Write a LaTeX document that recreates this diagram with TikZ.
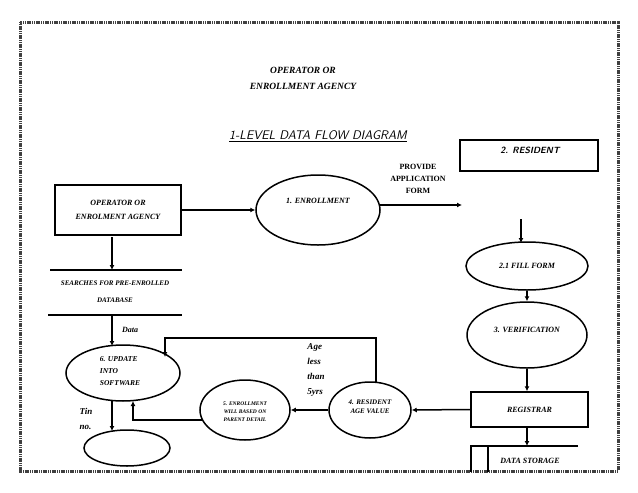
\documentclass[tikz,border=0pt]{standalone}
\usepackage{fontspec}
\setmainfont{Liberation Serif}
\usetikzlibrary{arrows.meta,shapes.geometric}
\begin{document}
\begin{tikzpicture}[x=1pt,y=-1pt,
  every node/.style={font=\bfseries\itshape\fontsize{8}{10}\selectfont, align=center},
  box/.style={draw, line width=1.5pt, minimum width=#1, inner sep=0pt},
  ell/.style={draw, ellipse, line width=1.5pt, inner sep=0pt},
  ar/.style={line width=1.5pt, -{Latex[length=5pt,width=5pt]}},
  ln/.style={line width=1.5pt}]
\useasboundingbox (0,0) rectangle (638,493);
\draw[line width=3pt, dash pattern=on 1.2pt off 0.6pt, black!75] (20,22) rectangle (618,471);
\node[font=\bfseries\itshape\fontsize{9.5}{16}\selectfont] (t1) at (303,78) {OPERATOR OR\\ENROLLMENT AGENCY};
\node[font=\itshape\fontsize{12.5}{14}\selectfont\sffamily] (t2) at (318,136) {\underline{1-LEVEL DATA FLOW DIAGRAM}};
\draw[ln] (460,140) rectangle (598,171);
\node[font=\bfseries\itshape\fontsize{9}{10}\selectfont\sffamily] (res) at (530,150) {2. RESIDENT};
\node[box=126pt, minimum height=50pt, font=\bfseries\itshape\fontsize{8}{14}\selectfont] (op) at (118,210) {OPERATOR OR\\ENROLMENT AGENCY};
\node[ell, minimum width=124pt, minimum height=70pt] (e1) at (318,210) {};
\node (e1t) at (318,201) {1. ENROLLMENT};
\draw[ar] (op.east) -- (e1.west);
\coordinate (pf) at (462,205);
\draw[ar] (380,205) -- (pf);
\node[font=\bfseries\fontsize{8}{12}\selectfont] (pl) at (418,179) {PROVIDE\\APPLICATION\\FORM};
\coordinate (r1) at (521,219);
\node[ell, minimum width=122pt, minimum height=48pt] (ff) at (527,266) {2.1 FILL FORM};
\draw[ar] (r1) -- (521,243);
\node[ell, minimum width=120pt, minimum height=66pt] (ver) at (527,335) {};
\node (vt) at (527,330) {3. VERIFICATION};
\draw[ar] (ff) -- (ver);
\node[box=117pt, minimum height=35pt] (reg) at (529.5,409.5) {REGISTRAR};
\draw[ar] (ver) -- (ver|-reg.north);
\draw[ln] (578,446) -- (471,446) -- (471,472) (488,446) -- (488,472);
\node (ds) at (530,461) {DATA STORAGE};
\coordinate (dst) at (527,446);
\draw[ar] (527,427) -- (dst);
\node[ell, minimum width=82pt, minimum height=56pt] (e4) at (370,410) {};
\node[font=\bfseries\itshape\fontsize{7}{9}\selectfont] (e4t) at (370,407) {4. RESIDENT\\AGE VALUE};
\draw[ar] (reg.west) -- (e4.east);
\node[ell, minimum width=90pt, minimum height=60pt] (e5) at (245,410) {};
\node[font=\bfseries\itshape\fontsize{5.5}{8}\selectfont] (e5t) at (245,412) {5. ENROLLMENT\\WILL BASED ON\\PARENT DETAIL};
\draw[ar] (e4.west) -- (e5.east);
\node[ell, minimum width=114pt, minimum height=56pt] (e6) at (123,373) {};
\node[align=left, font=\bfseries\itshape\fontsize{7.5}{12}\selectfont] (e6t) at (120,371) {6. UPDATE\\INTO\\SOFTWARE};
\draw[ar] (201.5,420) -- (133,420) -- (133,401);
\draw[ar] (376,382) -- (376,338) -- (165,338) -- (165,357);
\node[align=left, font=\bfseries\itshape\fontsize{9}{15}\selectfont] (age) at (316,370) {Age\\less\\than\\5yrs};
\node[ell, minimum width=86pt, minimum height=36pt] (e7) at (127,448) {};
\draw[ar] (112,401) -- (112,431);
\node[align=left, font=\bfseries\itshape\fontsize{9}{15}\selectfont] (tin) at (86,419) {Tin\\no.};
\draw[ln] (50,270) -- (182,270) (48,315) -- (182,315);
\node[font=\bfseries\itshape\fontsize{7}{17}\selectfont] (db) at (115,292) {SEARCHES FOR PRE-ENROLLED\\DATABASE};
\draw[ar] (112,237) -- (112,270);
\draw[ar] (112,315) -- (112,346);
\node[font=\bfseries\itshape\fontsize{8}{9}\selectfont] (dl) at (130,330) {Data};
\end{tikzpicture}
\end{document}
